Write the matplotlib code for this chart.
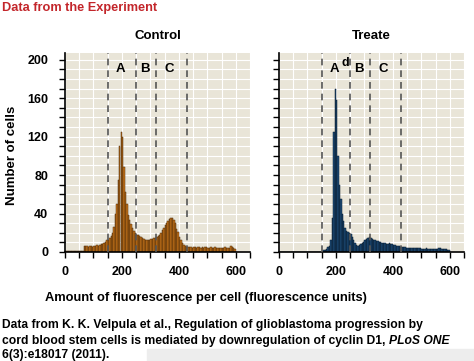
import numpy as np
import matplotlib.pyplot as plt
from matplotlib.patches import Rectangle

plt.rcParams['font.family'] = ['Liberation Sans', 'DejaVu Sans']
plt.rcParams['font.weight'] = 'bold'

# histogram bins, 5 fluorescence units wide, 0..600
bin_edges = np.arange(0, 605, 5)

control = ([1] * 13 +
           [6, 6, 6, 5, 6, 6, 5, 6, 6, 7, 6, 7, 8, 8, 9, 10, 12, 13, 15, 17,
            20, 26, 40, 50, 75, 110, 125, 120, 88, 62, 50, 38, 33, 29, 25, 22,
            20, 18, 18, 17, 16, 15, 14, 13, 13, 13, 13, 14, 14, 15, 15, 16,
            17, 18, 20, 23, 25, 28, 30, 32, 34, 35, 35, 33, 30, 24, 21, 16,
            13, 9, 7, 6, 5, 5, 5] +
           [5, 4, 5, 5, 4, 5, 5, 4, 5, 4, 5, 5, 4, 4, 5, 4, 4, 5, 4, 4, 4, 4,
            4, 4, 5, 4, 4, 4, 6, 5, 4, 3])

treated = ([0] * 30 +
           [1, 2, 2, 3, 5, 6, 12, 35, 125, 170,
            158, 100, 70, 55, 40, 32, 25, 22, 21, 20,
            19, 16, 12, 9, 7, 6, 7, 8, 9, 10,
            12, 14, 15, 16, 15, 14, 13, 12, 11, 11,
            10, 10, 9, 9, 9, 8, 8, 9, 8, 8,
            7, 7, 6, 6, 6, 5, 5, 5, 5, 4,
            4, 4, 4, 4, 4, 4, 4, 4, 4, 4,
            3, 3, 3, 4, 3, 3, 3, 3, 3, 3,
            3, 3, 4, 4, 3, 3, 3, 3, 2, 2])

gates = [150, 250, 320, 430]
regions = ['A', 'B', 'C']
region_x = [195, 280, 367]

x_ticks = list(range(0, 651, 50))
x_labeled = [0, 200, 400, 600]
y_ticks = list(range(0, 201, 10))
y_labeled = [0, 40, 80, 120, 160, 200]

W, H = 474, 361
fig = plt.figure(figsize=(W / 100, H / 100), dpi=100)


def fx(x):
    return x / W


def fy(y):
    return 1 - y / H


# light grey strip along the bottom right of the slide
fig.patches.append(Rectangle((fx(147), 0), 1 - fx(147), fy(349),
                             transform=fig.transFigure, color='#ededed', zorder=0))

panels = [
    ('Control', control, '#c8741a', '#4a2a08', 65, True),
    ('Treate', treated, '#1c4c78', '#08192b', 279, False),
]

for title, vals, fc, ec, left, show_y in panels:
    ax = fig.add_axes([fx(left), fy(252), 185 / W, (252 - 53) / H])
    ax.set_facecolor('#e9e5d8')
    ax.bar(bin_edges[:-1], vals, width=5, align='edge', color=fc,
           edgecolor=ec, linewidth=0.35, zorder=2)
    for g in gates:
        ax.axvline(g, color='#555555', lw=1.2, ls=(0, (4, 3)), zorder=3)
    for lab, xr in zip(regions, region_x):
        ax.text(xr, 190, lab, ha='center', va='center', fontsize=9.5,
                fontweight='bold')
    if not show_y:
        ax.text(232, 197, 'd', ha='center', va='center', fontsize=9,
                fontweight='bold')
    ax.set_xlim(0, 650)
    ax.set_ylim(0, 207)
    ax.set_xticks(x_ticks)
    ax.set_xticklabels([str(t) if t in x_labeled else '' for t in x_ticks])
    ax.set_yticks(y_ticks)
    if show_y:
        ax.set_yticklabels([str(t) if t in y_labeled else '' for t in y_ticks])
    else:
        ax.set_yticklabels([''] * len(y_ticks))
    ax.grid(color='white', lw=0.8)
    ax.set_axisbelow(True)
    for s in ['top', 'right']:
        ax.spines[s].set_visible(False)
    for s in ['left', 'bottom']:
        ax.spines[s].set_linewidth(1.2)
    ax.tick_params(axis='both', direction='out', length=4, width=1,
                   labelsize=9)
    ax.tick_params(axis='y', pad=8)
    ax.tick_params(axis='x', pad=6)
    ax.set_title(title, fontsize=9.5, fontweight='bold', pad=10)

fig.text(fx(2), fy(8), 'Data from the Experiment', color='#c3262b',
         fontsize=9.2, fontweight='bold', va='center', ha='left')
fig.text(fx(12), fy(155), 'Number of cells', rotation=90, fontsize=9.5,
         fontweight='bold', va='center', ha='center')
fig.text(fx(206), fy(298),
         'Amount of fluorescence per cell (fluorescence units)',
         fontsize=9.3, fontweight='bold', va='center', ha='center')

fig.text(fx(2), fy(325),
         'Data from K. K. Velpula et al., Regulation of glioblastoma progression by',
         fontsize=8.7, fontweight='bold', va='center', ha='left')
t2 = fig.text(fx(2), fy(341),
              'cord blood stem cells is mediated by downregulation of cyclin D1, ',
              fontsize=8.7, fontweight='bold', va='center', ha='left')
fig.canvas.draw()
bb = t2.get_window_extent()
fig.text(bb.x1 / W, fy(341), 'PLoS ONE', fontsize=8.7, fontweight='bold',
         style='italic', va='center', ha='left')
fig.text(fx(2), fy(355), '6(3):e18017 (2011).', fontsize=8.7,
         fontweight='bold', va='center', ha='left')

fig.savefig('out.png', dpi=100)
